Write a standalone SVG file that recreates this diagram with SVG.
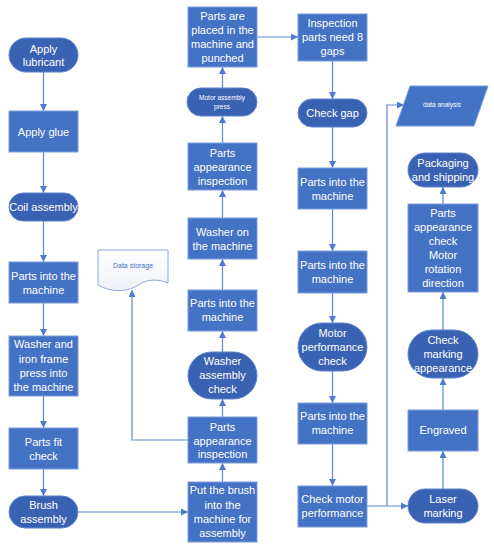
<svg xmlns="http://www.w3.org/2000/svg" width="494" height="550" viewBox="0 0 494 550">
<style>
.box{fill:#4472C4;stroke:#7C9DDB;stroke-width:1}
.term{fill:#3A62B2;stroke:#5C84CF;stroke-width:1}
.t{font-family:"Liberation Sans",Arial,sans-serif;font-size:11px;fill:#fff;text-anchor:middle}
.s{font-family:"Liberation Sans",Arial,sans-serif;font-size:6.5px;fill:#fff;text-anchor:middle}
.c{stroke:#5B87D6;stroke-width:1.2;fill:none;marker-end:url(#ah)}
.l{stroke:#5B87D6;stroke-width:1.2;fill:none}
</style>
<defs>
<marker id="ah" markerUnits="userSpaceOnUse" markerWidth="7" markerHeight="7" refX="7" refY="3.5" orient="auto">
<path d="M0,0 L7,3.5 L0,7 z" fill="#4C7AD0"/>
</marker>
<linearGradient id="doc" x1="0" y1="0" x2="0" y2="1">
<stop offset="0" stop-color="#ffffff"/>
<stop offset="1" stop-color="#EEF1F8"/>
</linearGradient>
</defs>
<rect width="494" height="550" fill="#fff"/>
<g id="connectors">
<path class="c" d="M43.5,72 V111"/>
<path class="c" d="M43.5,152 V193"/>
<path class="c" d="M43.5,221 V262"/>
<path class="c" d="M43.5,303 V336"/>
<path class="c" d="M43.5,396 V428"/>
<path class="c" d="M43.5,469 V496"/>
<path class="c" d="M78,512 H188"/>
<path class="c" d="M222.5,482 V463"/>
<path class="c" d="M222.5,417 V399"/>
<path class="c" d="M222.5,352 V331"/>
<path class="c" d="M222.5,290 V259"/>
<path class="c" d="M222.5,218 V190"/>
<path class="c" d="M222.5,143 V116"/>
<path class="c" d="M222.5,88 V67"/>
<path class="c" d="M188,440 H132 V290"/>
<path class="c" d="M257,37 H298"/>
<path class="c" d="M332.5,61 V99"/>
<path class="c" d="M332.5,127 V168"/>
<path class="c" d="M332.5,209 V251"/>
<path class="c" d="M332.5,293 V323"/>
<path class="c" d="M332.5,371 V403"/>
<path class="c" d="M332.5,444 V486"/>
<path class="c" d="M367,506 H408"/>
<path class="c" d="M387,506 V105 H404"/>
<path class="c" d="M443,489 V451"/>
<path class="c" d="M443,410 V378"/>
<path class="c" d="M443,330 V292"/>
<path class="c" d="M443,204 V187"/>
</g>
<g id="n-apply-lubricant"><rect class="term" x="9" y="38" width="69" height="34" rx="17"/><text class="t" x="43.5" y="53">Apply</text><text class="t" x="43.5" y="66">lubricant</text></g>
<g id="n-apply-glue"><rect class="box" x="9" y="111" width="69" height="41"/><text class="t" x="43.5" y="136">Apply glue</text></g>
<g id="n-coil-assembly"><rect class="term" x="9" y="193" width="69" height="28" rx="14"/><text class="t" x="43.5" y="211">Coil assembly</text></g>
<g id="n-parts-into-1"><rect class="box" x="9" y="262" width="69" height="41"/><text class="t" x="43.5" y="280">Parts into the</text><text class="t" x="43.5" y="294">machine</text></g>
<g id="n-washer-iron"><rect class="box" x="9" y="336" width="69" height="60"/><text class="t" x="43.5" y="348">Washer and</text><text class="t" x="43.5" y="363">iron frame</text><text class="t" x="43.5" y="377">press into</text><text class="t" x="43.5" y="391">the machine</text></g>
<g id="n-parts-fit"><rect class="box" x="9" y="428" width="69" height="41"/><text class="t" x="43.5" y="446">Parts fit</text><text class="t" x="43.5" y="460">check</text></g>
<g id="n-brush-assembly"><rect class="term" x="9" y="496" width="69" height="32" rx="16"/><text class="t" x="43.5" y="509">Brush</text><text class="t" x="43.5" y="523">assembly</text></g>

<g id="n-put-brush"><rect class="box" x="188" y="482" width="69" height="60"/><text class="t" x="222.5" y="494">Put the brush</text><text class="t" x="222.5" y="509">into the</text><text class="t" x="222.5" y="523">machine for</text><text class="t" x="222.5" y="537">assembly</text></g>
<g id="n-appearance-2"><rect class="box" x="188" y="417" width="69" height="46"/><text class="t" x="222.5" y="431">Parts</text><text class="t" x="222.5" y="445">appearance</text><text class="t" x="222.5" y="458">inspection</text></g>
<g id="n-washer-check"><rect class="term" x="188" y="352" width="69" height="47" rx="23.5"/><text class="t" x="222.5" y="365">Washer</text><text class="t" x="222.5" y="379">assembly</text><text class="t" x="222.5" y="393">check</text></g>
<g id="n-parts-into-2"><rect class="box" x="188" y="290" width="69" height="41"/><text class="t" x="222.5" y="307">Parts into the</text><text class="t" x="222.5" y="321">machine</text></g>
<g id="n-washer-on"><rect class="box" x="188" y="218" width="69" height="41"/><text class="t" x="222.5" y="236">Washer on</text><text class="t" x="222.5" y="250">the machine</text></g>
<g id="n-appearance-1"><rect class="box" x="188" y="143" width="69" height="47"/><text class="t" x="222.5" y="157">Parts</text><text class="t" x="222.5" y="171">appearance</text><text class="t" x="222.5" y="185">inspection</text></g>
<g id="n-motor-press"><rect class="term" x="187" y="88" width="70" height="28" rx="14"/><text class="s" x="222" y="100">Motor assembly</text><text class="s" x="222" y="109">press</text></g>
<g id="n-punched"><rect class="box" x="188" y="7" width="69" height="60"/><text class="t" x="222.5" y="20">Parts are</text><text class="t" x="222.5" y="34">placed in the</text><text class="t" x="222.5" y="48">machine and</text><text class="t" x="222.5" y="62">punched</text></g>
<g id="n-data-storage"><path d="M98,250 H168 V283 C158,279 148,279 140,284 C130,291 114,294 98,285 Z" fill="url(#doc)" stroke="#8DA8DC" stroke-width="1"/><text x="133" y="268" font-family="Liberation Sans, Arial, sans-serif" font-size="7" fill="#4472C4" text-anchor="middle">Data storage</text></g>

<g id="n-inspection-gaps"><rect class="box" x="298" y="14" width="69" height="47"/><text class="t" x="332.5" y="27">Inspection</text><text class="t" x="332.5" y="41">parts need 8</text><text class="t" x="332.5" y="55">gaps</text></g>
<g id="n-check-gap"><rect class="term" x="298" y="99" width="69" height="28" rx="14"/><text class="t" x="332.5" y="117">Check gap</text></g>
<g id="n-parts-into-3"><rect class="box" x="298" y="168" width="69" height="41"/><text class="t" x="332.5" y="186">Parts into the</text><text class="t" x="332.5" y="200">machine</text></g>
<g id="n-parts-into-4"><rect class="box" x="298" y="251" width="69" height="42"/><text class="t" x="332.5" y="269">Parts into the</text><text class="t" x="332.5" y="283">machine</text></g>
<g id="n-motor-perf-check"><rect class="term" x="298" y="323" width="69" height="48" rx="24"/><text class="t" x="332.5" y="337">Motor</text><text class="t" x="332.5" y="351">performance</text><text class="t" x="332.5" y="365">check</text></g>
<g id="n-parts-into-5"><rect class="box" x="298" y="403" width="69" height="41"/><text class="t" x="332.5" y="420">Parts into the</text><text class="t" x="332.5" y="434">machine</text></g>
<g id="n-check-motor-perf"><rect class="box" x="298" y="486" width="69" height="41"/><text class="t" x="332.5" y="503">Check motor</text><text class="t" x="332.5" y="517">performance</text></g>

<g id="n-data-analysis"><path d="M410,86 H488 L474,126 H396 Z" class="box"/><text class="s" x="442" y="107">data analysis</text></g>
<g id="n-packaging"><rect class="term" x="408" y="153" width="70" height="34" rx="17"/><text class="t" x="443" y="167">Packaging</text><text class="t" x="443" y="181">and shipping</text></g>
<g id="n-rotation"><rect class="box" x="408" y="204" width="70" height="88"/><text class="t" x="443" y="217">Parts</text><text class="t" x="443" y="231">appearance</text><text class="t" x="443" y="245">check</text><text class="t" x="443" y="259">Motor</text><text class="t" x="443" y="273">rotation</text><text class="t" x="443" y="287">direction</text></g>
<g id="n-check-marking"><rect class="term" x="408" y="330" width="70" height="48" rx="24"/><text class="t" x="443" y="344">Check</text><text class="t" x="443" y="358">marking</text><text class="t" x="443" y="372">appearance</text></g>
<g id="n-engraved"><rect class="box" x="408" y="410" width="70" height="41"/><text class="t" x="443" y="434">Engraved</text></g>
<g id="n-laser"><rect class="term" x="408" y="489" width="70" height="34" rx="17"/><text class="t" x="443" y="503">Laser</text><text class="t" x="443" y="517">marking</text></g>
</svg>
